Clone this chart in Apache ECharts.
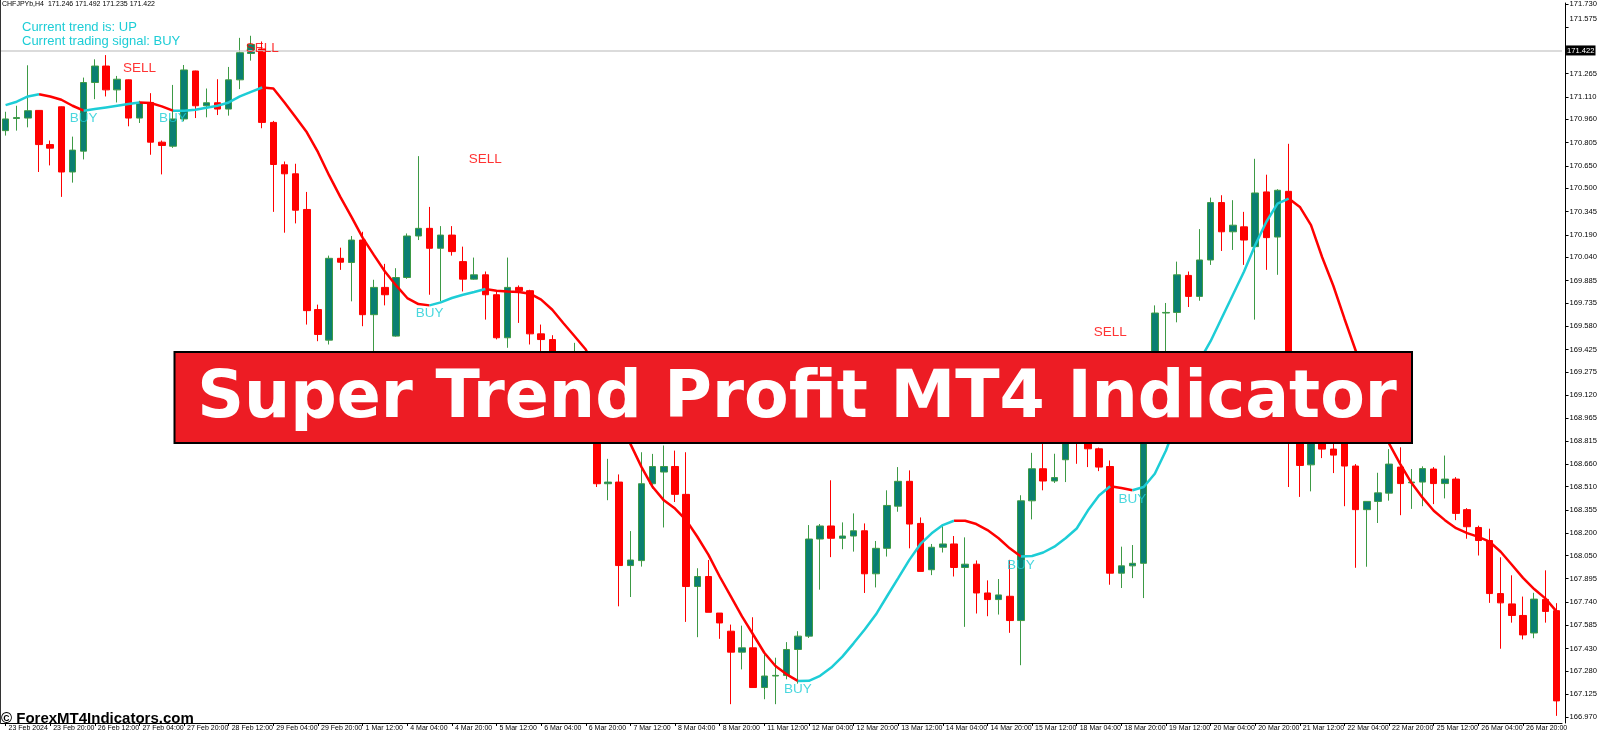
<!DOCTYPE html>
<html>
<head>
<meta charset="utf-8">
<script src="https://cdn.jsdelivr.net/npm/echarts@6/dist/echarts.min.js"></script>
<style>
html,body{margin:0;padding:0;background:#fff;}
#chart{width:1600px;height:732px;}
</style>
</head>
<body>
<div id="chart"></div>
<script>
// ---------- DATA ----------
const tickLabels = ['23 Feb 2024','23 Feb 20:00','26 Feb 12:00','27 Feb 04:00','27 Feb 20:00','28 Feb 12:00','29 Feb 04:00','29 Feb 20:00','1 Mar 12:00','4 Mar 04:00','4 Mar 20:00','5 Mar 12:00','6 Mar 04:00','6 Mar 20:00','7 Mar 12:00','8 Mar 04:00','8 Mar 20:00','11 Mar 12:00','12 Mar 04:00','12 Mar 20:00','13 Mar 12:00','14 Mar 04:00','14 Mar 20:00','15 Mar 12:00','18 Mar 04:00','18 Mar 20:00','19 Mar 12:00','20 Mar 04:00','20 Mar 20:00','21 Mar 12:00','22 Mar 04:00','22 Mar 20:00','25 Mar 12:00','26 Mar 04:00','26 Mar 20:00'];

const priceTicks = [171.730,171.575,171.265,171.110,170.960,170.805,170.650,170.500,170.345,170.190,170.040,169.885,169.735,169.580,169.425,169.275,169.120,168.965,168.815,168.660,168.510,168.355,168.200,168.050,167.895,167.740,167.585,167.430,167.280,167.125,166.970];

const openP = [170.885,170.966,170.969,171.020,170.792,171.044,170.609,170.748,171.206,171.316,
171.157,171.224,170.969,171.073,170.808,170.781,170.963,171.283,171.051,171.071,
171.029,171.224,171.400,171.430,170.940,170.657,170.597,170.359,169.691,169.487,
170.033,170.005,170.155,169.657,169.839,169.514,169.905,170.182,170.233,170.100,
170.188,170.011,169.894,169.923,169.790,169.503,169.839,169.817,169.529,169.491,
169.330,169.220,169.380,169.050,168.529,168.540,167.983,168.016,168.529,168.607,
168.644,168.458,167.843,167.910,167.666,167.545,167.405,167.434,167.169,167.246,
167.250,167.423,167.512,168.160,168.247,168.165,168.180,168.215,167.928,168.098,
168.379,168.545,168.264,167.955,168.105,168.127,167.970,167.992,167.800,167.756,
167.778,167.616,168.415,168.629,168.547,168.689,168.850,168.800,168.762,168.644,
167.932,167.981,167.998,169.200,169.668,169.672,169.919,169.779,170.022,170.405,
170.210,170.243,170.111,170.476,170.175,170.480,168.850,168.655,168.820,168.760,
168.850,168.647,168.356,168.411,168.466,168.640,168.535,168.540,168.627,168.530,
168.560,168.356,168.237,168.150,167.796,167.727,167.650,167.533,167.757,167.682];

const highP = [171.011,171.051,171.321,171.022,170.819,171.046,170.845,171.239,171.361,171.389,
171.250,171.226,171.084,171.135,170.819,171.190,171.323,171.285,171.166,171.228,
171.310,171.504,171.518,171.480,170.950,170.679,170.664,170.476,169.724,170.051,
170.104,170.182,170.210,169.890,169.996,169.967,170.199,170.715,170.376,170.248,
170.248,170.111,170.038,169.945,169.812,170.038,169.852,169.823,169.591,169.520,
169.380,169.469,169.420,169.100,168.695,168.591,168.213,168.739,168.728,168.784,
168.750,168.739,167.965,168.020,167.666,167.589,167.582,167.638,167.401,167.368,
167.472,167.545,168.253,168.260,168.552,168.271,168.331,168.264,168.147,168.485,
168.640,168.618,168.304,168.127,168.247,168.180,168.171,168.017,167.884,167.893,
168.021,168.452,168.735,168.795,168.729,168.900,168.880,168.830,168.770,168.684,
168.109,168.120,169.250,169.719,169.735,170.011,169.945,170.228,170.438,170.454,
170.421,170.343,170.697,170.591,170.494,170.797,168.900,168.860,168.860,168.800,
168.900,168.660,168.411,168.602,168.760,168.772,168.627,168.645,168.640,168.717,
168.573,168.366,168.249,168.229,168.038,167.918,167.776,167.801,167.951,167.732];

const lowP = [170.852,170.885,170.907,170.609,170.653,170.443,170.538,170.693,171.095,171.113,
171.073,170.914,170.936,170.724,170.593,170.770,170.947,170.969,170.974,170.989,
170.985,171.162,171.352,170.901,170.343,170.204,170.266,169.591,169.480,169.458,
169.956,169.746,169.580,169.400,169.719,169.510,169.896,170.155,169.790,169.746,
170.051,169.812,169.890,169.624,169.492,169.436,169.602,169.458,169.414,169.300,
169.180,169.150,169.000,168.507,168.419,167.711,167.773,167.976,168.496,168.237,
168.407,167.607,167.505,167.671,167.494,167.058,167.290,167.169,167.091,167.058,
167.224,167.195,167.500,167.822,168.039,168.092,168.076,167.800,167.837,168.043,
168.342,168.098,167.944,167.919,168.070,167.910,167.574,167.663,167.645,167.656,
167.534,167.318,168.291,168.485,168.534,168.540,168.662,168.640,168.613,167.855,
167.833,167.899,167.766,169.150,169.350,169.606,169.708,169.750,169.989,170.082,
170.089,169.989,169.624,169.956,169.923,168.507,168.441,168.478,168.700,168.600,
168.379,167.968,167.975,168.267,168.416,168.319,168.361,168.379,168.393,168.431,
168.286,168.162,168.050,167.734,167.428,167.602,167.490,167.498,167.602,166.980];

const closeP = [170.963,170.972,171.018,170.792,170.768,170.609,170.755,171.206,171.316,171.157,
171.228,170.969,171.069,170.808,170.786,170.963,171.290,171.051,171.071,171.029,
171.224,171.405,171.460,170.940,170.659,170.597,170.354,169.684,169.525,170.033,
170.007,170.155,169.657,169.839,169.790,169.905,170.182,170.233,170.100,170.188,
170.078,169.894,169.923,169.790,169.503,169.839,169.817,169.529,169.491,169.330,
169.220,169.380,169.050,168.529,168.540,167.983,168.020,168.529,168.644,168.644,
168.458,167.843,167.910,167.671,167.600,167.405,167.434,167.169,167.246,167.250,
167.423,167.512,168.160,168.247,168.165,168.180,168.215,167.928,168.098,168.384,
168.545,168.260,167.944,168.105,168.127,167.970,167.992,167.800,167.756,167.787,
167.616,168.415,168.629,168.547,168.570,168.850,168.800,168.762,168.640,167.932,
167.981,167.998,169.200,169.668,169.672,169.923,169.779,170.022,170.405,170.210,
170.254,170.155,170.469,170.171,170.487,168.850,168.651,168.820,168.760,168.720,
168.647,168.356,168.411,168.468,168.660,168.530,168.540,168.630,168.530,168.560,
168.331,168.242,168.150,167.796,167.734,167.650,167.520,167.759,167.677,167.080];

const trendLine = [171.055,171.078,171.113,171.128,171.113,171.091,171.051,171.018,171.029,171.040,
171.051,171.062,171.073,171.069,171.047,171.018,171.018,171.024,171.038,171.051,
171.073,171.113,171.144,171.173,171.166,171.073,170.974,170.874,170.741,170.586,
170.443,170.310,170.171,170.056,169.945,169.852,169.768,169.728,169.719,169.739,
169.768,169.790,169.808,169.828,169.817,169.812,169.808,169.797,169.757,169.690,
169.600,169.513,169.425,169.270,169.110,168.950,168.795,168.640,168.507,168.418,
168.363,168.286,168.175,168.054,167.910,167.777,167.644,167.523,167.401,167.313,
167.257,167.213,167.214,167.247,167.302,167.375,167.464,167.556,167.656,167.778,
167.899,168.021,168.127,168.198,168.253,168.282,168.282,168.260,168.220,168.165,
168.098,168.043,168.047,168.070,168.109,168.165,168.230,168.350,168.450,168.512,
168.500,168.485,168.507,168.596,168.751,168.950,169.160,169.348,169.480,169.635,
169.790,169.945,170.122,170.277,170.398,170.432,170.376,170.255,170.040,169.850,
169.630,169.418,169.210,169.000,168.797,168.660,168.535,168.436,168.349,168.286,
168.232,168.199,168.174,168.142,168.075,167.988,167.901,167.826,167.764,167.677];

// bar ranges where the trend line is "up" (cyan); the rest is "down" (red)
const upRanges = [[0,3],[7,12],[15,23],[38,43],[71,85],[91,99],[101,115]];

const sigBar   = [7, 15, 12, 23, 43, 38, 71, 91, 99, 101];
const sigPrice = [170.967, 170.967, 171.299, 171.435, 170.695, 169.666, 167.158, 167.984, 169.540, 168.425];
const sigText  = ['BUY','BUY','SELL','SELL','SELL','BUY','BUY','BUY','SELL','BUY'];

const currentPrice = 171.422;
const headerText = 'CHFJPYb,H4  171.246 171.492 171.235 171.422';
const titleText = 'Super Trend Profit MT4 Indicator';

// ---------- BUILD ----------
const n = openP.length;
const cats = openP.map((_, i) => String(i));
const candles = openP.map((o, i) => [o, closeP[i], lowP[i], highP[i]]);
const isUp = new Array(n).fill(false);
upRanges.forEach(r => { for (let i = r[0]; i <= r[1]; i++) isUp[i] = true; });
const upLine = trendLine.map((v, i) => isUp[i] ? v : null);
const downLine = trendLine.map((v, i) => {
  if (!isUp[i]) return v;
  if ((i > 0 && !isUp[i - 1]) || (i < n - 1 && !isUp[i + 1])) return v;
  return null;
});
const CYAN = '#1dcdd6', RED = '#ff0000';
const sigData = sigBar.map((b, k) => ({
  value: [b, sigPrice[k]],
  label: { color: sigText[k] === 'BUY' ? CYAN : RED, formatter: sigText[k] }
}));

const pxPerUnit = 150.7;
const yMax = 171.730 + 1 / pxPerUnit;
const yMin = 171.730 - 723 / pxPerUnit;

const chart = echarts.init(document.getElementById('chart'), null, { renderer: 'canvas' });
chart.setOption({
  animation: false,
  backgroundColor: '#ffffff',
  grid: { left: -2.9, right: 31.7, top: 0, bottom: 8, containLabel: false },
  xAxis: {
    type: 'category', data: cats, boundaryGap: true,
    axisLine: { show: true, lineStyle: { color: '#000', width: 1 } },
    axisTick: { show: true, interval: 3, alignWithLabel: true, length: 3, lineStyle: { color: '#000' } },
    axisLabel: {
      show: true, interval: 3, align: 'left', margin: 2, padding: [0, 0, 0, 3],
      fontSize: 7, color: '#000', fontFamily: 'Liberation Sans',
      formatter: (v, idx) => (idx % 4 === 0 ? (tickLabels[idx / 4] || '') : '')
    },
    splitLine: { show: false }
  },
  yAxis: {
    type: 'value', position: 'right', min: yMin, max: yMax, offset: 3.5,
    axisLine: { show: true, lineStyle: { color: '#000', width: 1 } },
    axisTick: { show: true, length: 3, customValues: priceTicks, lineStyle: { color: '#000' } },
    axisLabel: {
      show: true, customValues: priceTicks, margin: 4, fontSize: 7.6, color: '#000',
      fontFamily: 'Liberation Sans',
      formatter: v => (Math.abs(v - 171.575) < 1e-6 ? '{s|' + v.toFixed(3) + '}' : v.toFixed(3)),
      rich: { s: { fontSize: 7.6, color: '#000', fontFamily: 'Liberation Sans', padding: [0, 0, 16, 0] } }
    },
    splitLine: { show: false }
  },
  series: [
    {
      type: 'candlestick', data: candles, barWidth: 7,
      itemStyle: { color: '#0a7f72', color0: '#ff0000', borderColor: '#3d9a45', borderColor0: '#ff0000', borderWidth: 1 },
      markLine: {
        symbol: ['none', 'none'], silent: true,
        data: [{ yAxis: currentPrice }],
        lineStyle: { color: '#cfcfcf', type: 'solid', width: 1.5 },
        label: {
          show: true, position: 'end', distance: 4, formatter: currentPrice.toFixed(3),
          backgroundColor: '#000', color: '#fff', fontSize: 7.6, padding: [1, 1],
          fontFamily: 'Liberation Sans'
        }
      },
      z: 2
    },
    { type: 'line', data: downLine, symbol: 'none', connectNulls: false, lineStyle: { color: RED, width: 2.5 }, z: 3 },
    { type: 'line', data: upLine, symbol: 'none', connectNulls: false, lineStyle: { color: CYAN, width: 2.5 }, z: 4 },
    {
      type: 'scatter', data: sigData, symbol: 'circle', symbolSize: 2,
      itemStyle: { color: 'rgba(255,255,255,0)' }, z: 6,
      label: { show: true, position: 'inside', fontSize: 13.5, fontFamily: 'Liberation Sans' }
    }
  ],
  graphic: [
    { type: 'line', shape: { x1: 0.5, y1: 0, x2: 0.5, y2: 724 }, style: { stroke: '#333', lineWidth: 1 }, z: 10 },
    { type: 'text', x: 2, y: 1, style: { text: headerText, font: '7px "Liberation Sans"', fill: '#000', verticalAlign: 'top' }, z: 10 },
    { type: 'text', x: 22, y: 20.5, style: { text: 'Current trend is: UP', font: '13px "Liberation Sans"', fill: CYAN, verticalAlign: 'top' }, z: 10 },
    { type: 'text', x: 22, y: 35, style: { text: 'Current trading signal: BUY', font: '13px "Liberation Sans"', fill: CYAN, verticalAlign: 'top' }, z: 10 },
    { type: 'rect', shape: { x: 174.5, y: 352, width: 1237.5, height: 91 }, style: { fill: '#ed1c24', stroke: '#000', lineWidth: 2 }, z: 20 },
    { type: 'text', x: 797, y: 400, style: { text: titleText, font: 'bold 65px "DejaVu Sans"', fill: '#fff', align: 'center', verticalAlign: 'middle' }, z: 21 },
    { type: 'text', x: 1, y: 726, style: { text: '\u00a9 ForexMT4Indicators.com', font: 'bold 15px "Liberation Sans"', fill: '#000', verticalAlign: 'bottom' }, z: 10 }
  ]
});
</script>
</body>
</html>
